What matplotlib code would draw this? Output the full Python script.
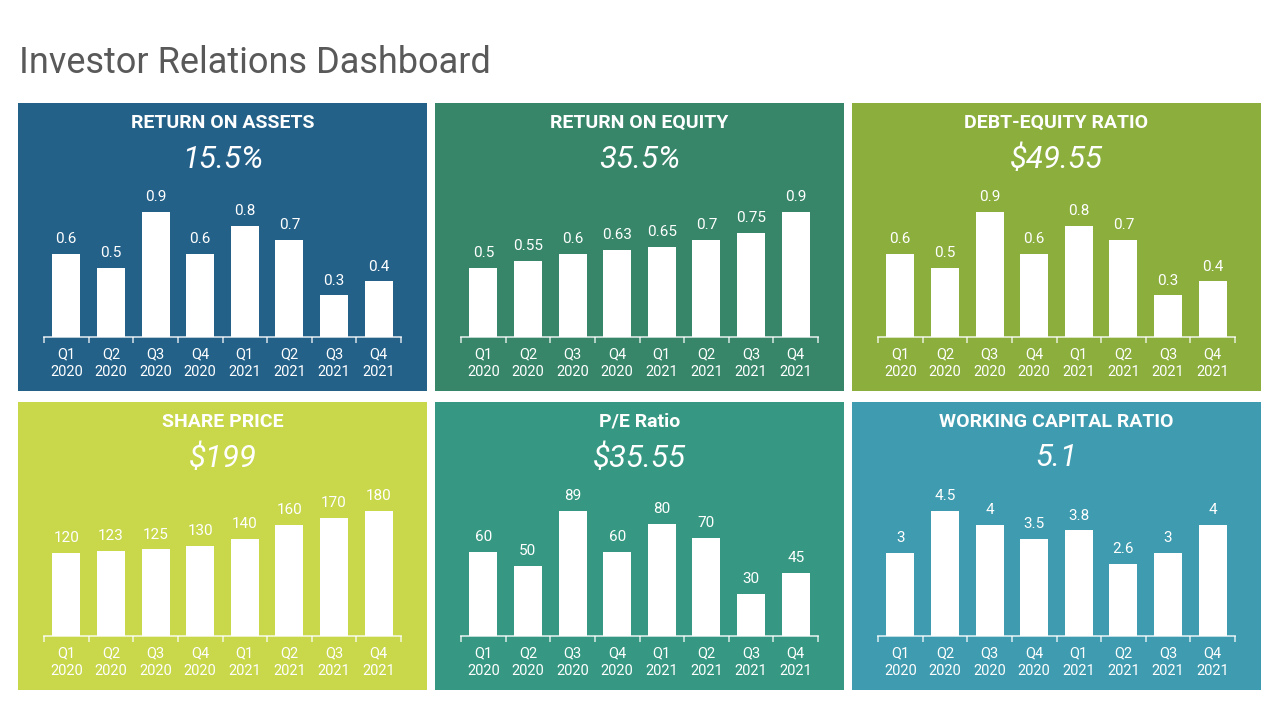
import matplotlib
matplotlib.use("Agg")
import matplotlib.pyplot as plt
from matplotlib.patches import Rectangle

plt.rcParams['font.family'] = ['Roboto', 'DejaVu Sans']

quarters = ["Q1\n2020", "Q2\n2020", "Q3\n2020", "Q4\n2020",
            "Q1\n2021", "Q2\n2021", "Q3\n2021", "Q4\n2021"]

titles = ["RETURN ON ASSETS", "RETURN ON EQUITY", "DEBT-EQUITY RATIO",
          "SHARE PRICE", "P/E Ratio", "WORKING CAPITAL RATIO"]
headline = ["15.5%", "35.5%", "$49.55", "$199", "$35.55", "5.1"]

roa = [0.6, 0.5, 0.9, 0.6, 0.8, 0.7, 0.3, 0.4]
roe = [0.5, 0.55, 0.6, 0.63, 0.65, 0.7, 0.75, 0.9]
debt_equity = [0.6, 0.5, 0.9, 0.6, 0.8, 0.7, 0.3, 0.4]
share_price = [120, 123, 125, 130, 140, 160, 170, 180]
pe_ratio = [60, 50, 89, 60, 80, 70, 30, 45]
wcr = [3, 4.5, 4, 3.5, 3.8, 2.6, 3, 4]

series = [roa, roe, debt_equity, share_price, pe_ratio, wcr]
colors = ["#246189", "#37866A", "#8BAE3D", "#C9D74A", "#369882", "#3F9BAF"]

W, H = 1280, 720
fig = plt.figure(figsize=(12.8, 7.2), dpi=100)
fig.patch.set_facecolor("white")

def fx(px):
    return px / W

def fy(py):
    return 1 - py / H

fig.text(fx(19), fy(63), "Investor Relations Dashboard", fontsize=26,
         color="#595959", ha="left", va="center")

col_x = [18, 435, 852]
row_y = [103, 402]
pw, ph = 409, 288

for k in range(6):
    r, c = divmod(k, 3)
    x0, y0 = col_x[c], row_y[r]
    fig.patches.append(Rectangle((fx(x0), fy(y0 + ph)), pw / W, ph / H,
                                 transform=fig.transFigure, facecolor=colors[k],
                                 edgecolor="none", zorder=-5))
    cx = x0 + pw / 2
    fig.text(fx(cx), fy(y0 + 20), titles[k], fontsize=14, fontweight="bold",
             color="white", ha="center", va="center")
    fig.text(fx(cx), fy(y0 + 56), headline[k], fontsize=22.5, fontstyle="italic",
             color="white", ha="center", va="center")

    axh = 150
    axb = y0 + 234
    ax = fig.add_axes([fx(x0 + 26), fy(axb), 357 / W, axh / H])
    ax.set_facecolor("none")
    ax.set_zorder(2)
    vals = series[k]
    bars = ax.bar(range(8), vals, width=0.63, color="white", zorder=3)
    ax.bar_label(bars, labels=[f"{v:g}" for v in vals], padding=5.5,
                 color="white", fontsize=11)
    ax.set_xlim(-0.5, 7.5)
    ax.set_ylim(0, max(vals) * axh / 125)
    for s in ["top", "right", "left"]:
        ax.spines[s].set_visible(False)
    ax.spines["bottom"].set_color((1, 1, 1, 0.75))
    ax.spines["bottom"].set_linewidth(1.3)
    ax.set_yticks([])
    ax.set_xticks(range(8))
    ax.set_xticklabels(quarters, color="white", fontsize=10.5, linespacing=1.3)
    ax.tick_params(axis="x", which="major", length=0, pad=7.5)
    ax.set_xticks([i - 0.5 for i in range(9)], minor=True)
    ax.tick_params(axis="x", which="minor", length=4, width=1.2,
                   color=(1, 1, 1, 0.75), direction="out")

fig.savefig("out.png", dpi=100, facecolor="white")
